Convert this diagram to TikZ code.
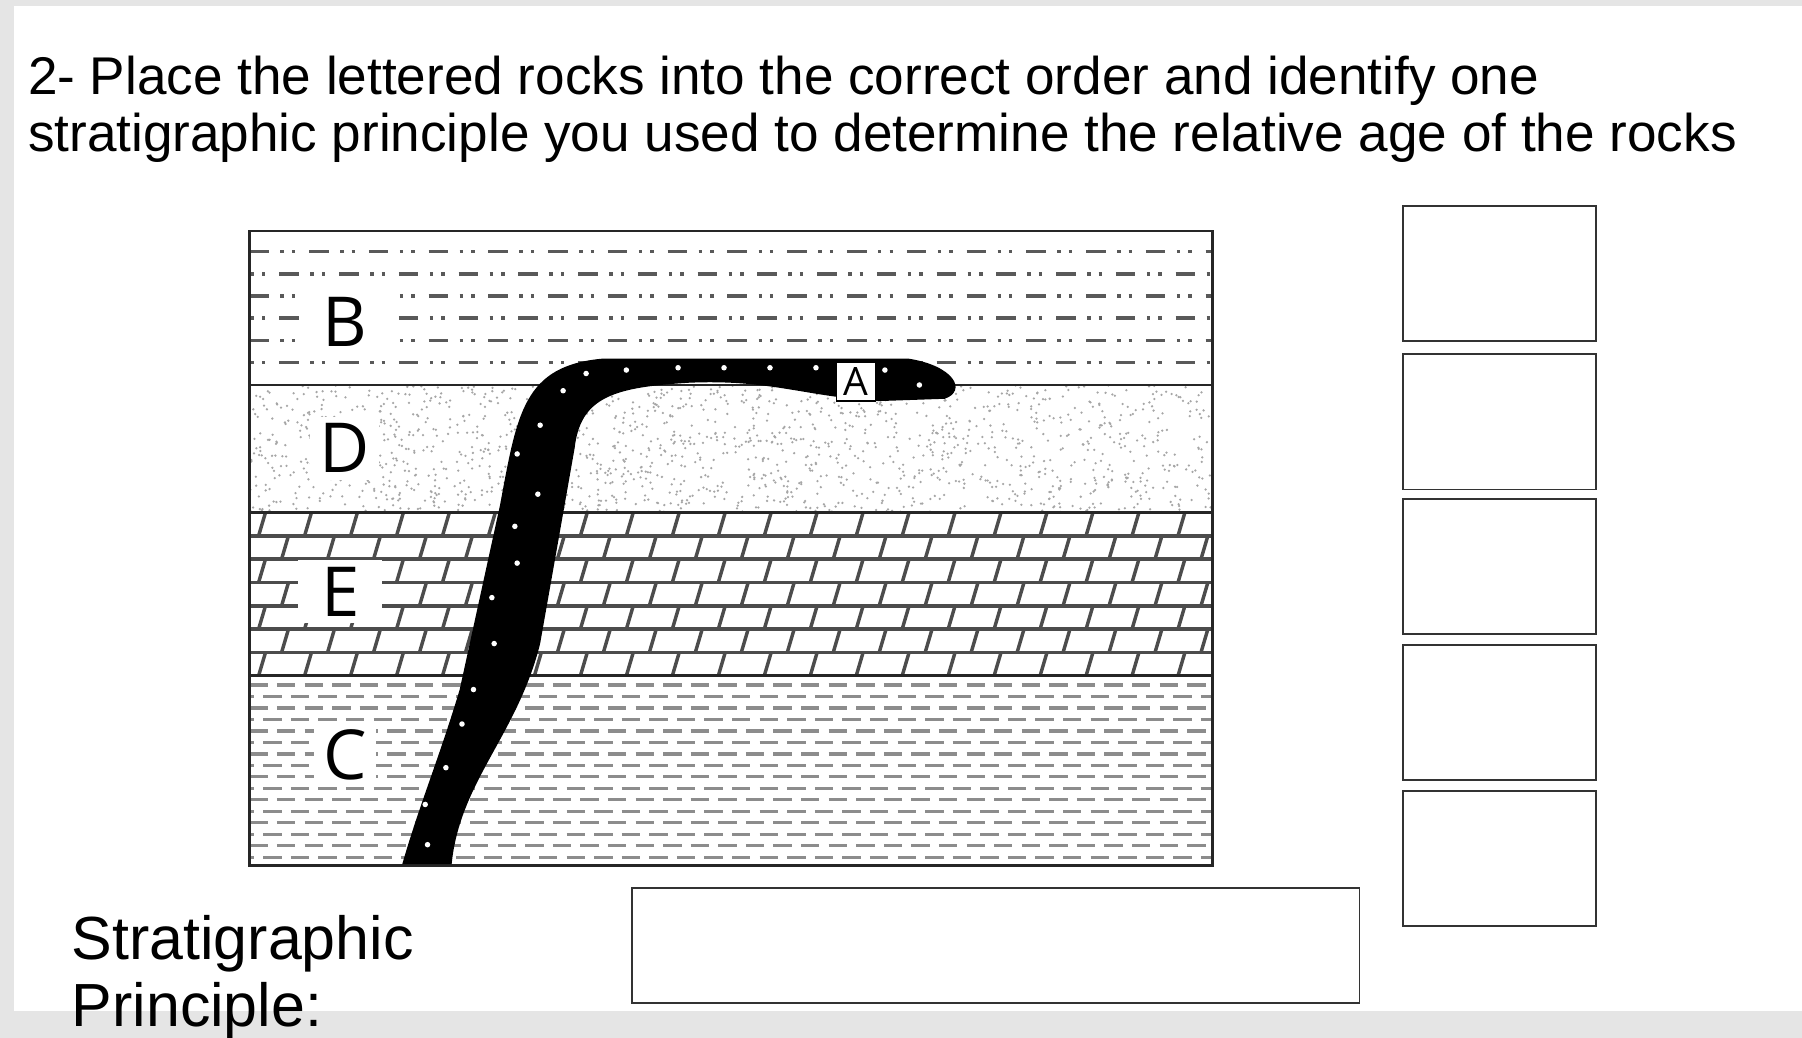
\documentclass[tikz,border=0pt]{standalone}
\usepackage{fontspec}
\setmainfont{Liberation Sans}
\newfontfamily\lblfont{Open Sans}
\begin{document}
\begin{tikzpicture}[x=0.5pt,y=-0.5pt,
  frame/.style={draw=black!85,line width=1.2pt},
  ansbox/.style={draw=black!80,line width=0.8pt,fill=white},
  pat/.style={draw=black!65,line width=1.5pt},
  lbl/.style={font=\lblfont\fontsize{30}{30}\selectfont,fill=white,inner xsep=10pt,inner ysep=3pt}]
\useasboundingbox (0,0) rectangle (1568,903);
\fill[black!10] (0,0) rectangle (1568,903);
\fill[white] (12,5) rectangle (1568,880);
% title
\node[anchor=base west,inner sep=0,font=\fontsize{23.1}{25}\selectfont] (t1) at (24,82) {2- Place the lettered rocks into the correct order and identify one};
\node[anchor=base west,inner sep=0,font=\fontsize{23.1}{25}\selectfont] (t2) at (24,132) {stratigraphic principle you used to determine the relative age of the rocks};
% B layer
\begin{scope}
\clip (217,201) rectangle (1055,335);
\foreach \r in {0,...,5}{
  \pgfmathsetmacro{\yy}{219+19.3*\r}
  \pgfmathsetmacro{\off}{mod(\r,2)*13}
  \draw[pat,dash pattern=on 8.5pt off 5pt on 1.5pt off 3.5pt on 1.5pt off 6pt,dash phase=\off pt] (217,\yy) -- (1055,\yy);
}
\end{scope}
% D layer stipple
\begin{scope}
\clip (217,335) rectangle (1055,446);
\pgfmathsetseed{7}
\foreach \i in {1,...,1600}{
  \pgfmathsetmacro{\px}{217+838*rnd}
  \pgfmathsetmacro{\py}{335+111*rnd}
  \fill[black!35] (\px,\py) circle (0.55pt);
}
\end{scope}
% E layer bricks
\begin{scope}
\clip (217,446) rectangle (1055,588);
\foreach \r in {1,...,6}{
  \pgfmathsetmacro{\yy}{446+20.3*\r}
  \draw[pat,black!70] (217,\yy) -- (1055,\yy);
}
\foreach \r in {0,...,6}{
  \pgfmathsetmacro{\ya}{446+20.3*\r}
  \pgfmathsetmacro{\yb}{446+20.3*(\r+1)}
  \pgfmathsetmacro{\off}{mod(\r,2)*20}
  \foreach \k in {0,...,21}{
    \pgfmathsetmacro{\xx}{225+\off+40*\k}
    \draw[pat,black!70] (\xx,\yb) -- (\xx+6,\ya);
  }
}
\end{scope}
% C layer
\begin{scope}
\clip (217,588) rectangle (1055,753);
\foreach \r in {0,...,15}{
  \pgfmathsetmacro{\yy}{596+10*\r}
  \pgfmathsetmacro{\off}{mod(\r,2)*6}
  \draw[pat,black!45,line width=1.4pt,dash pattern=on 8pt off 4pt,dash phase=\off pt] (217,\yy) -- (1055,\yy);
}
\end{scope}
% layer boundaries
\draw[frame] (217,335) -- (1055,335);
\draw[frame] (217,446) -- (1055,446);
\draw[frame] (217,588) -- (1055,588);
\draw[frame] (217,201) rectangle (1055,753);
% labels
\node[lbl] (B) at (300,280) {B};
\node[lbl,inner xsep=4pt] (D) at (300,390) {D};
\node[lbl] (E) at (296,515) {E};
\node[lbl,inner xsep=4pt] (C) at (300,657) {C};
% intrusion A
\fill[black] (350,752) .. controls (365,700) and (382,660) .. (400,600) -- (435,440)
  .. controls (450,360) and (455,318) .. (525,312) -- (790,312)
  .. controls (830,318) and (842,340) .. (822,347) -- (765,349)
  .. controls (700,345) and (670,330) .. (600,333)
  .. controls (535,337) and (505,345) .. (500,390) -- (470,560)
  .. controls (450,640) and (400,680) .. (393,752) -- cycle;
\foreach \p in {(372,735),(370,700),(388,668),(402,630),(412,600),(430,560),(428,520),(450,490),(448,458),(468,430),(450,395),(470,370),(490,340),(510,325),(545,322),(590,320),(630,320),(670,320),(710,320),(800,335),(770,322)}
  \fill[white] \p circle (1.2pt);
\node[draw=black,line width=0.6pt,fill=white,font=\lblfont\fontsize{17}{17}\selectfont,minimum width=17pt,minimum height=17pt,inner sep=0] (A) at (745,332) {A};
% answer boxes
\node[ansbox,minimum width=84pt,minimum height=59pt,inner sep=0] (r1) at (1305,238) {};
\node[ansbox,minimum width=84pt,minimum height=59pt,inner sep=0] (r2) at (1305,367) {};
\node[ansbox,minimum width=84pt,minimum height=59pt,inner sep=0] (r3) at (1305,493) {};
\node[ansbox,minimum width=84pt,minimum height=59pt,inner sep=0] (r4) at (1305,620) {};
\node[ansbox,minimum width=84pt,minimum height=59pt,inner sep=0] (r5) at (1305,747) {};
\node[ansbox,minimum width=316.5pt,minimum height=50pt,inner sep=0] (pb) at (866.5,823) {};
% bottom label
\fill[black!10] (0,881) rectangle (1568,903);
\node[anchor=base west,inner sep=0,font=\fontsize{26.5}{26.5}\selectfont] (s1) at (62,835) {Stratigraphic};
\node[anchor=base west,inner sep=0,font=\fontsize{26.5}{26.5}\selectfont] (s2) at (62,893) {Principle:};
\end{tikzpicture}
\end{document}
